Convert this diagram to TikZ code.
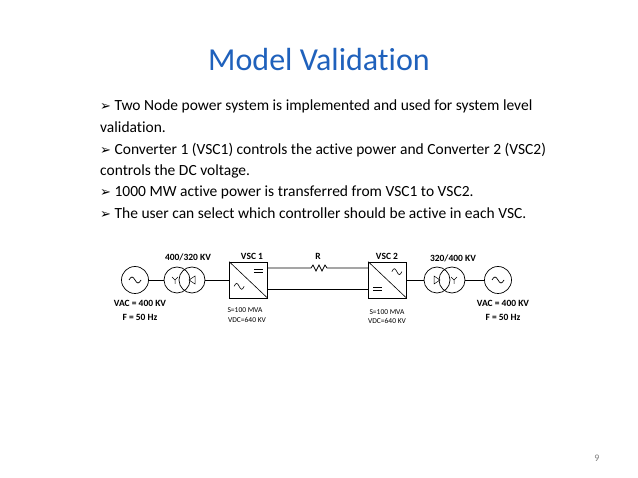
\documentclass[tikz,border=0pt]{standalone}
\usepackage{fontspec}
\setmainfont{Carlito}[Ligatures=NoCommon]
\newfontfamily\dv{DejaVu Sans}
\begin{document}
\begin{tikzpicture}[x=1pt,y=-1pt,
  src/.style={circle,draw,minimum size=27pt,inner sep=0pt,line width=0.7pt},
  tr/.style={circle,draw,minimum size=26pt,inner sep=0pt,line width=0.7pt},
  vsc/.style={draw,minimum width=38pt,minimum height=36pt,inner sep=0pt,line width=0.7pt},
  lbl/.style={font=\bfseries\fontsize{9.5}{10}\selectfont,inner sep=0pt},
  sml/.style={font=\fontsize{7.5}{8}\selectfont,inner sep=0pt},
  txt/.style={anchor=west,inner sep=0pt,font=\fontsize{15.5}{17}\selectfont},
  wire/.style={line width=0.7pt}]
\useasboundingbox (0,0) rectangle (638,478);
\fill[white] (0,0) rectangle (638,478);
\node[text={rgb,255:red,31;green,97;blue,188},font=\fontsize{32}{34}\selectfont] (title) at (319,60) {Model Validation};
\node[txt] (l1) at (100,106) {{\dv\fontsize{13}{14}\selectfont ➢} Two Node power system is implemented and used for system level};
\node[txt] (l2) at (100,127) {validation.};
\node[txt] (l3) at (100,150) {{\dv\fontsize{13}{14}\selectfont ➢} Converter 1 (VSC1) controls the active power and Converter 2 (VSC2)};
\node[txt] (l4) at (100,171) {controls the DC voltage.};
\node[txt] (l5) at (100,192) {{\dv\fontsize{13}{14}\selectfont ➢} 1000 MW active power is transferred from VSC1 to VSC2.};
\node[txt] (l6) at (100,213) {{\dv\fontsize{13}{14}\selectfont ➢} The user can select which controller should be active in each VSC.};
\node[text=gray,font=\fontsize{10}{11}\selectfont] (pg) at (597,458) {9};
% sources
\node[src] (s1) at (135,280) {};
\node[src] (s2) at (498,280) {};
\foreach \c in {s1,s2}{
 \draw[wire] ([xshift=-6pt]\c.center) sin ++(3,-3) cos ++(3,3) sin ++(3,3) cos ++(3,-3);}
% transformers
\node[tr] (t1a) at (177,280) {};
\node[tr] (t1b) at (192,280) {};
\node[tr] (t2a) at (437,280) {};
\node[tr] (t2b) at (452,280) {};
\foreach \c/\d in {t1a/-2,t2b/2}{
 \draw[line width=0.5pt] ([xshift=\d pt]\c.center) -- ++(0,4) ([xshift=\d pt]\c.center) -- ++(-3,-3) ([xshift=\d pt]\c.center) -- ++(3,-3);}
\draw[line width=0.5pt] ([xshift=-3pt]t1b.center) -- ++(6,-4) -- ++(0,8) -- cycle;
\draw[line width=0.5pt] ([xshift=3pt]t2a.center) -- ++(-6,-4) -- ++(0,8) -- cycle;
% converters
\node[vsc] (v1) at (248.5,280) {};
\node[vsc] (v2) at (387.5,280) {};
\foreach \v in {v1,v2}{\draw[line width=0.6pt] (\v.north west) -- (\v.south east);}
\draw[line width=0.6pt] ([shift={(-14pt,-8pt)}]v1.north east) -- ++(9,0) ([shift={(-14pt,-11pt)}]v1.north east) -- ++(9,0);
\draw[line width=0.6pt] ([shift={(5pt,12pt)}]v1.south west) sin ++(2.5,-3) cos ++(2.5,3) sin ++(2.5,3) cos ++(2.5,-3);
\draw[line width=0.6pt] ([shift={(-15pt,-10pt)}]v2.north east) sin ++(2.5,-3) cos ++(2.5,3) sin ++(2.5,3) cos ++(2.5,-3);
\draw[line width=0.6pt] ([shift={(5pt,11pt)}]v2.south west) -- ++(9,0) ([shift={(5pt,8pt)}]v2.south west) -- ++(9,0);
% wires
\draw[wire] (s1.east) -- (t1a.west);
\draw[wire] (t1b.east) -- (v1.west);
\draw[wire] (v2.east) -- (t2a.west);
\draw[wire] (t2b.east) -- (s2.west);
\coordinate (r1) at (308,268);
\coordinate (r2) at (330,268);
\coordinate (bb) at (320,289);
\draw[wire] (v1.east |- r1) -- (r1) -- ++(3,0) -- ++(2,-3) -- ++(3,6) -- ++(3,-6) -- ++(3,6) -- ++(3,-6) -- ++(2,3) -- (r2) -- (v2.west |- r2);
\draw[wire] (v1.east |- bb) -- (v2.west |- bb);
% labels
\node[lbl] (a1) at (188,257) {400/320 KV};
\node[lbl] (a2) at (252,256) {VSC 1};
\node[lbl] (a3) at (318,256) {R};
\node[lbl] (a4) at (387,256) {VSC 2};
\node[lbl] (a5) at (453,258) {320/400 KV};
\node[lbl] (b1) at (140,303) {VAC = 400 KV};
\node[lbl] (b2) at (140,317) {F = 50 Hz};
\node[lbl] (b3) at (503,303) {VAC = 400 KV};
\node[lbl] (b4) at (503,317) {F = 50 Hz};
\node[sml] (c1) at (245,310) {S=100 MVA};
\node[sml] (c2) at (247,320) {VDC=640 KV};
\node[sml] (c3) at (387,312) {S=100 MVA};
\node[sml] (c4) at (387,321) {VDC=640 KV};
\end{tikzpicture}
\end{document}
